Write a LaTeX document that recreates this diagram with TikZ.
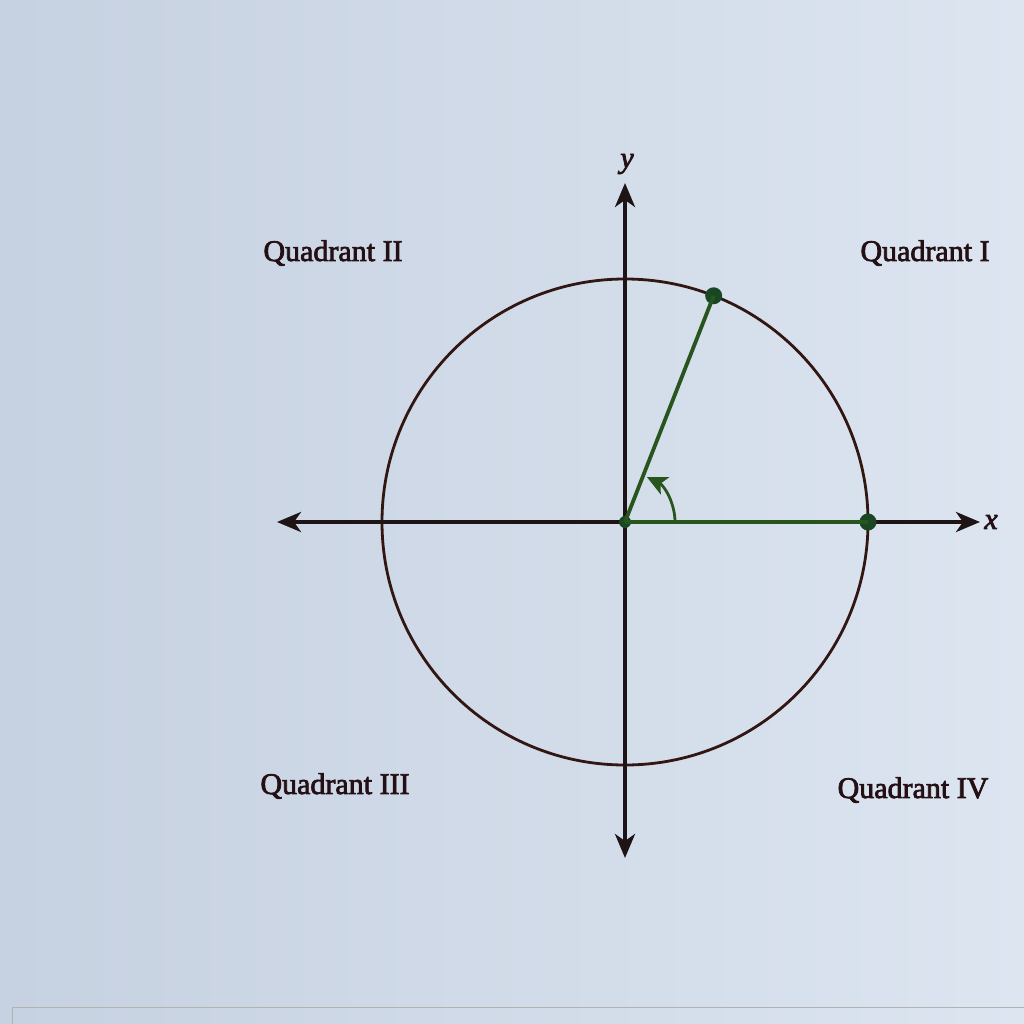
\documentclass[tikz,border=0pt]{standalone}
\usepackage{fontspec}
\setmainfont{Liberation Serif}
\newfontfamily\labfont[FakeBold=2.5]{Liberation Serif}
\usetikzlibrary{arrows.meta,calc}
\definecolor{bgL}{RGB}{198,209,225}
\definecolor{bgM}{RGB}{216,225,237}
\definecolor{bgR}{RGB}{220,229,240}
\definecolor{axiscol}{RGB}{30,20,22}
\definecolor{circcol}{RGB}{50,22,18}
\definecolor{greencol}{RGB}{40,85,30}
\definecolor{dotcol}{RGB}{25,70,35}
\definecolor{txtcol}{RGB}{35,15,20}
\tikzset{
  axis/.style={line width=3.8pt, draw=axiscol, -{Stealth[length=24pt,width=20pt,inset=7pt]}},
  quad/.style={font=\labfont\fontsize{30}{32}\selectfont, text=txtcol, inner sep=0pt},
  axlabel/.style={font=\labfont\fontsize{30}{32}\selectfont\itshape, text=txtcol, inner sep=0pt},
  dot/.style={circle, fill=dotcol, minimum size=17pt, inner sep=0pt},
}
\begin{document}
\begin{tikzpicture}[x=1pt,y=-1pt]
\useasboundingbox (0,0) rectangle (1024,1024);
\shade[left color=bgL, middle color=bgM, right color=bgR] (0,0) rectangle (1024,1024);
\draw[line width=1pt, draw=gray!60] (12,1024) -- (12,1007) -- (1024,1007);
% center
\coordinate (O) at (625,522);
\coordinate (xl) at (277,522);
\coordinate (xr) at (980,522);
\coordinate (yt) at (625,183);
\coordinate (yb) at (625,858);
% circle
\draw[line width=2.8pt, draw=circcol] (O) circle[radius=243];
% axes
\draw[axis] (O) -- (xr);
\draw[axis] (O) -- (xl);
\draw[axis] (O) -- (yt);
\draw[axis] (O) -- (yb);
% green lines
\node[dot] (A) at ($(O)+(0:243)$) {};
\node[dot] (P) at ($(O)+(-68.6:243)$) {};
\node[dot, minimum size=12pt] (C) at (O) {};
\draw[line width=3.8pt, draw=greencol] (C.center) -- (A.center);
\draw[line width=3.8pt, draw=greencol] (C.center) -- (P.center);
% angle arc
\draw[line width=2.8pt, draw=greencol, -{Stealth[length=20pt,width=19pt,inset=5pt]}] ($(O)+(0:50)$) arc[start angle=0, end angle=-64, radius=50];
% labels
\node[axlabel] (ylab) at (627,164) {y};
\node[axlabel] (xlab) at (991,522) {x};
\node[quad] (q2) at (333,253) {Quadrant II};
\node[quad] (q1) at (925,253) {Quadrant I};
\node[quad] (q3) at (335,786) {Quadrant III};
\node[quad] (q4) at (913,790) {Quadrant IV};
\end{tikzpicture}
\end{document}
